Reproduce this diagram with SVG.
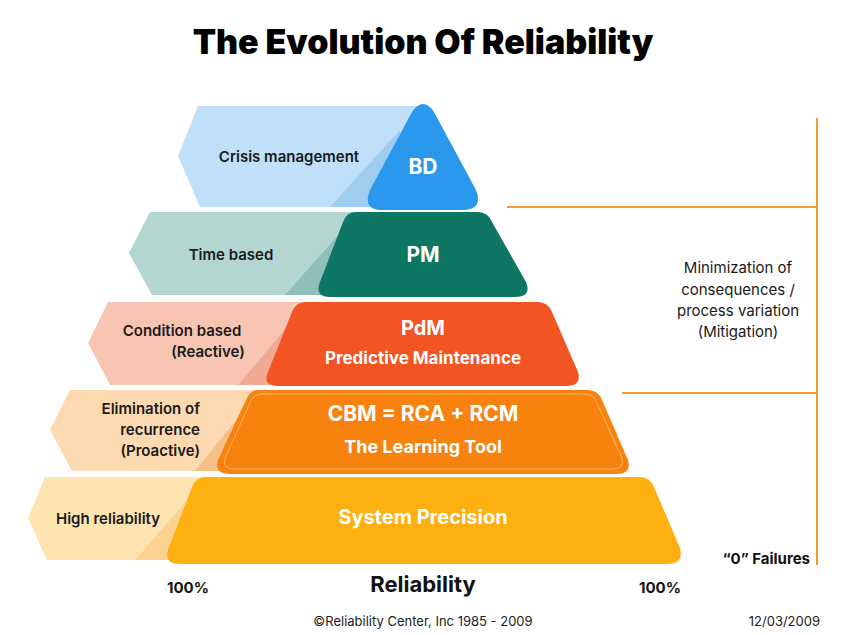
<svg xmlns="http://www.w3.org/2000/svg" width="846" height="635" viewBox="0 0 846 635">
<style>
text{font-family:Inter,"Liberation Sans",sans-serif}
.lbl{font-size:15px;font-weight:600;fill:#1a1a1a}
.w{fill:#fff;font-weight:700;text-anchor:middle}
.ln{stroke:#f39a35;stroke-width:2;fill:none}
</style>
<rect width="846" height="635" fill="#fff"/>
<text x="423" y="54" text-anchor="middle" font-size="34" font-weight="900" fill="#000">The Evolution Of Reliability</text>

<g id="bd">
<polygon points="198,106 420,106 420,207 200,207 178,156" fill="#bfe0f8"/>
<polygon points="330,207 400,130 400,207" fill="#9fcdf0"/>
<path d="M412,112 Q423,96 434,112 L476,190 Q484,210 462,210 L382,210 Q362,210 370,190 Z" fill="#2a98ec"/>
<text class="lbl" x="289" y="162" text-anchor="middle">Crisis management</text>
<text class="w" x="423" y="174" font-size="21">BD</text>
</g>

<g id="pm">
<polygon points="150,212 400,212 400,295 152,295 129,253" fill="#b3d6d1"/>
<polygon points="285,295 350,222 350,295" fill="#8fbfb8"/>
<path d="M355,212 L478,212 Q488,212 492,222 L526,282 Q532,297 515,297 L330,297 Q314,297 320,282 L343,222 Q347,212 355,212 Z" fill="#0d7763"/>
<text class="lbl" x="231" y="260" text-anchor="middle">Time based</text>
<text class="w" x="423" y="262" font-size="21">PM</text>
</g>

<g id="pdm">
<polygon points="108,302 400,302 400,385 110,385 88,343" fill="#f9c5b3"/>
<polygon points="238,385 300,312 300,385" fill="#f0a993"/>
<path d="M305,302 L538,302 Q548,302 552,312 L578,372 Q582,386 566,386 L278,386 Q262,386 268,372 L292,312 Q296,302 305,302 Z" fill="#f25422"/>
<text class="lbl" x="182" y="336" text-anchor="middle">Condition based</text>
<text class="lbl" x="208" y="357" text-anchor="middle">(Reactive)</text>
<text class="w" x="423" y="335" font-size="20">PdM</text>
<text class="w" x="423" y="364" font-size="17">Predictive Maintenance</text>
</g>

<g id="cbm">
<polygon points="70,390 400,390 400,471 72,471 50,430" fill="#fcd9b0"/>
<polygon points="195,471 252,400 252,471" fill="#f5bf8a"/>
<path d="M258,390 L588,390 Q598,390 602,400 L628,460 Q632,474 616,474 L230,474 Q214,474 218,460 L246,400 Q250,390 258,390 Z" fill="#f8820e"/>
<path d="M262,394 L584,394 Q594,394 597,403 L622,458 Q625,469 612,469 L234,469 Q222,469 225,458 L250,403 Q253,394 262,394 Z" fill="none" stroke="#fbb46a" stroke-width="1"/>
<text class="lbl" x="200" y="414" text-anchor="end">Elimination of</text>
<text class="lbl" x="200" y="435" text-anchor="end">recurrence</text>
<text class="lbl" x="200" y="456" text-anchor="end">(Proactive)</text>
<text class="w" x="423" y="421" font-size="21">CBM = RCA + RCM</text>
<text class="w" x="423" y="453" font-size="18">The Learning Tool</text>
</g>

<g id="sp">
<polygon points="45,477 400,477 400,560 47,560 28,518" fill="#fde4b0"/>
<polygon points="135,560 200,486 200,560" fill="#fbd290"/>
<path d="M205,477 L640,477 Q650,477 654,487 L680,548 Q684,564 668,564 L180,564 Q164,564 168,550 L192,487 Q196,477 205,477 Z" fill="#fdb00f"/>
<text class="lbl" x="108" y="524" text-anchor="middle">High reliability</text>
<text class="w" x="423" y="524" font-size="20">System Precision</text>
</g>

<g id="connectors">
<path class="ln" d="M817,118 V565"/>
<path class="ln" d="M507,207 H817"/>
<path class="ln" d="M622,393 H817"/>
</g>

<g id="side">
<text x="738" y="273" text-anchor="middle" font-size="15" fill="#1a1a1a">Minimization of</text>
<text x="738" y="295" text-anchor="middle" font-size="15" fill="#1a1a1a">consequences /</text>
<text x="738" y="316" text-anchor="middle" font-size="15" fill="#1a1a1a">process variation</text>
<text x="738" y="337" text-anchor="middle" font-size="15" fill="#1a1a1a">(Mitigation)</text>
<text x="810" y="564" text-anchor="end" font-size="15" font-weight="700" fill="#111">“0” Failures</text>
</g>

<text x="188" y="593" text-anchor="middle" font-size="15" font-weight="700" fill="#111">100%</text>
<text x="423" y="592" text-anchor="middle" font-size="22" font-weight="700" fill="#111">Reliability</text>
<text x="660" y="593" text-anchor="middle" font-size="15" font-weight="700" fill="#111">100%</text>
<text x="423" y="626" text-anchor="middle" font-size="13" fill="#222">©Reliability Center, Inc 1985 - 2009</text>
<text x="820" y="626" text-anchor="end" font-size="13" fill="#222">12/03/2009</text>
</svg>
